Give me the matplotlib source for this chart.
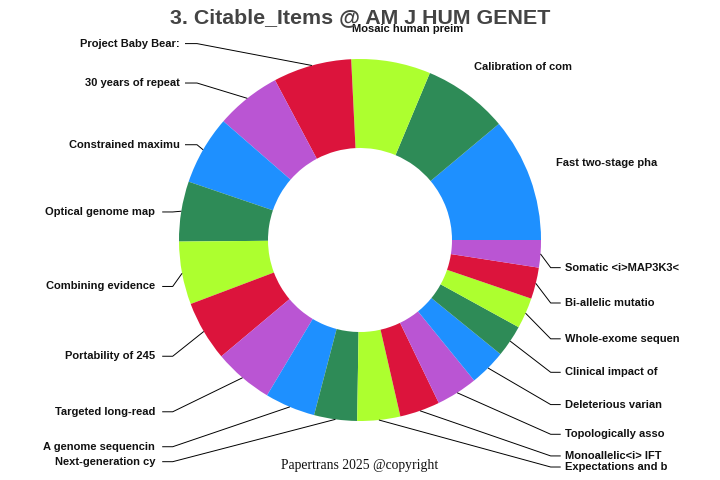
import numpy as np
import matplotlib
matplotlib.use("Agg")
import matplotlib.pyplot as plt

# ---------------- data ----------------
titles = ["Fast two-stage pha", "Calibration of com", "Mosaic human preim",
          "Project Baby Bear:", "30 years of repeat", "Constrained maximu",
          "Optical genome map", "Combining evidence", "Portability of 245",
          "Targeted long-read", "A genome sequencin", "Next-generation cy",
          "Expectations and b", "Monoallelic<i> IFT", "Topologically asso",
          "Deleterious varian", "Clinical impact of", "Whole-exome sequen",
          "Bi-allelic mutatio", "Somatic <i>MAP3K3<"]
values = [39.9, 27.4, 25.5, 25.2, 21.0, 22.2, 19.3, 20.2, 19.3, 19.1,
          16.2, 13.8, 13.8, 12.9, 13.3, 11.8, 10.3, 9.9, 10.1, 8.8]
palette = ["#1E90FF", "#2E8B57", "#ADFF2F", "#DC143C", "#BA55D3"]
chart_title = "3. Citable_Items @ AM J HUM GENET"
footer = "Papertrans 2025 @copyright"

# ---------------- layout ----------------
W, H, DPI = 720, 480, 100
R_PX = 181.0            # outer radius in pixels
px = 1.0 / R_PX         # one pixel in data units
HOLE = 92.0 / R_PX

fig = plt.figure(figsize=(W / DPI, H / DPI), dpi=DPI)
ax = fig.add_axes([0, 0, 1, 1])
colors = [palette[i % len(palette)] for i in range(len(values))]
wedges, _ = ax.pie(values, colors=colors, startangle=0, counterclock=True,
                   radius=1.0, wedgeprops=dict(width=1.0 - HOLE, edgecolor="none",
                                               linewidth=0, antialiased=True))
ax.set_aspect("auto")
ax.set_xlim(-W / 2 * px, W / 2 * px)
ax.set_ylim(-H / 2 * px, H / 2 * px)
ax.axis("off")

mids = [np.deg2rad((w.theta1 + w.theta2) / 2.0) for w in wedges]

label_font = dict(family=["Liberation Sans", "DejaVu Sans"], fontweight="bold",
                  fontsize=8, color="#111111")

# labels without leader lines (largest slices)
free_labels = {0: 0.0, 1: -9.5, 2: -44.0}   # index -> x shift (px)
for i, dx in free_labels.items():
    a = mids[i]
    x = 1.15 * np.cos(a) + dx * px
    y = 1.15 * np.sin(a) + 5.5 * px
    ax.text(x, y, titles[i], ha="left", va="center", zorder=3, **label_font)

# labels with leader lines
groups = [
    dict(members=[3, 4, 5], side=-1, elbow=163, seg=12, gap=5, dy=-13),
    dict(members=[6, 7, 8, 9, 10, 11], side=-1, elbow=187.3, seg=10.5, gap=7, dy=-6.5),
    dict(members=list(range(12, 20)), side=1, elbow=190.7, seg=10, gap=4.5, dy=-11),
]
for g in groups:
    s = g["side"]
    for i in g["members"]:
        a = mids[i]
        x0, y0 = np.cos(a), np.sin(a)
        ly = 1.2 * np.sin(a) + g["dy"] * px
        ex = s * g["elbow"] * px
        hx = s * (g["elbow"] + g["seg"]) * px
        ax.plot([x0, ex, hx], [y0, ly, ly], color="black", lw=0.7,
                solid_capstyle="butt", zorder=1)
        tx = s * (g["elbow"] + g["seg"] + g["gap"]) * px
        ax.text(tx, ly, titles[i], ha="left" if s > 0 else "right",
                va="center", **label_font)

fig.text(360 / W, 1 - 17.5 / H, chart_title, ha="center", va="center",
         fontsize=15.4, fontweight="bold", color="#444444",
         family=["Liberation Sans", "DejaVu Sans"], zorder=2)
fig.text(360 / W, 1 - 466 / H, footer, ha="center", va="center",
         fontsize=9.8, color="#111111", family=["Liberation Serif", "DejaVu Serif"])

fig.savefig("out.png", dpi=DPI)
